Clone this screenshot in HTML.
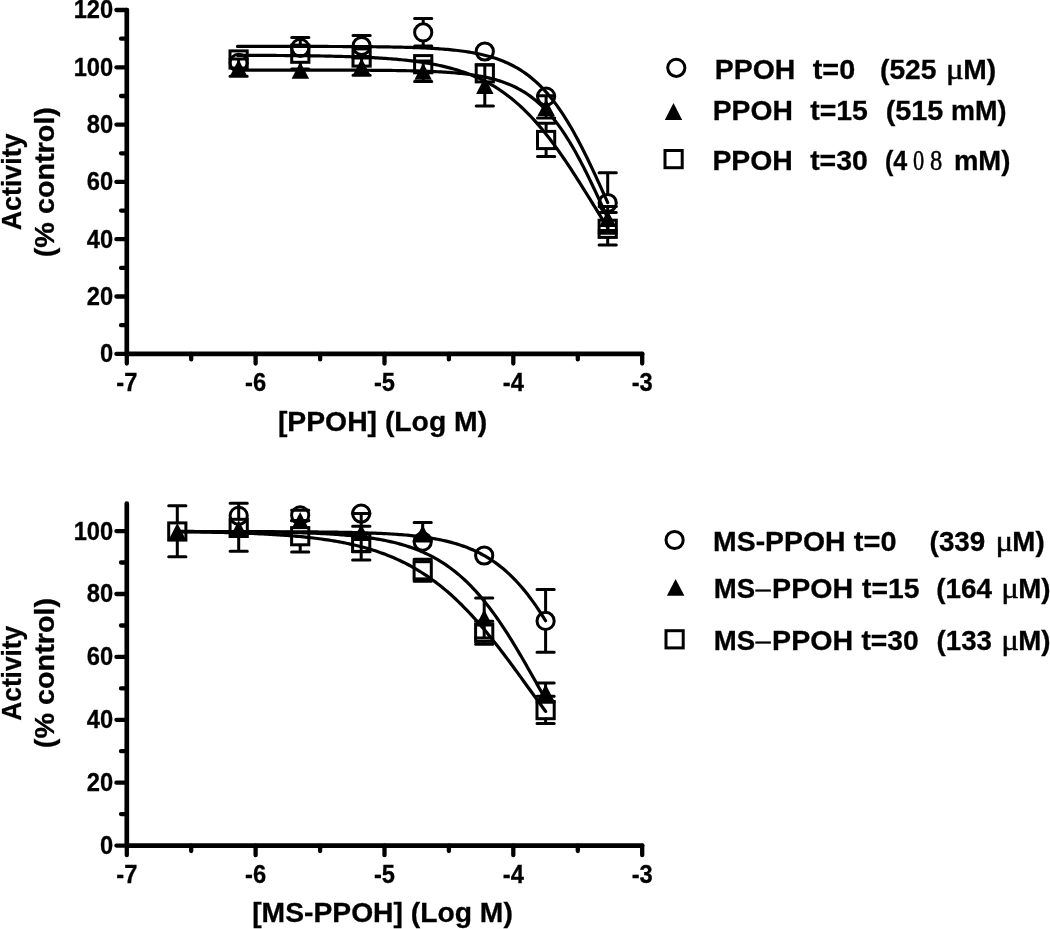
<!DOCTYPE html>
<html><head><meta charset="utf-8"><title>Figure</title>
<style>
html,body{margin:0;padding:0;background:#fff;}
svg{display:block}
text{font-family:"Liberation Sans",sans-serif;font-weight:bold;fill:#000;white-space:pre;stroke:#000;stroke-width:0.3px}
.sym{font-family:"Liberation Serif",serif;font-weight:normal;stroke-width:0.45px}
</style></head><body>
<svg width="1050" height="929" viewBox="0 0 1050 929">
<rect width="1050" height="929" fill="#fff"/>
<g id="top">
<path d="M126.8 10.0V353.9H642.2" fill="none" stroke="#000" stroke-width="4.7" stroke-linecap="round" stroke-linejoin="round"/>
<path d="M116.4 353.9H126.8M116.4 296.5H126.8M116.4 239.2H126.8M116.4 181.9H126.8M116.4 124.6H126.8M116.4 67.3H126.8M116.4 10.0H126.8M121.0 325.2H126.8M121.0 267.9H126.8M121.0 210.6H126.8M121.0 153.3H126.8M121.0 96.0H126.8M121.0 38.7H126.8M126.8 353.9V363.5M255.6 353.9V363.5M384.5 353.9V363.5M513.3 353.9V363.5M642.2 353.9V363.5M191.2 353.9V359.4M320.1 353.9V359.4M448.9 353.9V359.4M577.8 353.9V359.4" fill="none" stroke="#000" stroke-width="4.3" stroke-linecap="round"/>
<text text-anchor="end" font-size="25.5" transform="translate(113.2 362.2) scale(0.93 1)">0</text>
<text text-anchor="end" font-size="25.5" transform="translate(113.2 304.9) scale(0.93 1)">20</text>
<text text-anchor="end" font-size="25.5" transform="translate(113.2 247.6) scale(0.93 1)">40</text>
<text text-anchor="end" font-size="25.5" transform="translate(113.2 190.3) scale(0.93 1)">60</text>
<text text-anchor="end" font-size="25.5" transform="translate(113.2 133.0) scale(0.93 1)">80</text>
<text text-anchor="end" font-size="25.5" transform="translate(113.2 75.7) scale(0.93 1)">100</text>
<text text-anchor="end" font-size="25.5" transform="translate(113.2 18.4) scale(0.93 1)">120</text>
<text text-anchor="middle" font-size="25.5" transform="translate(126.8 390.9) scale(0.93 1)">-7</text>
<text text-anchor="middle" font-size="25.5" transform="translate(255.6 390.9) scale(0.93 1)">-6</text>
<text text-anchor="middle" font-size="25.5" transform="translate(384.5 390.9) scale(0.93 1)">-5</text>
<text text-anchor="middle" font-size="25.5" transform="translate(513.3 390.9) scale(0.93 1)">-4</text>
<text text-anchor="middle" font-size="25.5" transform="translate(642.2 390.9) scale(0.93 1)">-3</text>
<polyline points="237.5,46.38 239.5,46.38 241.5,46.38 243.5,46.38 245.5,46.38 247.5,46.38 249.5,46.38 251.5,46.38 253.5,46.38 255.5,46.38 257.5,46.39 259.5,46.39 261.5,46.39 263.5,46.39 265.5,46.39 267.5,46.39 269.5,46.39 271.5,46.39 273.5,46.39 275.5,46.39 277.5,46.40 279.5,46.40 281.5,46.40 283.5,46.40 285.5,46.40 287.5,46.40 289.5,46.41 291.5,46.41 293.5,46.41 295.5,46.41 297.5,46.41 299.5,46.42 301.5,46.42 303.5,46.42 305.5,46.42 307.5,46.43 309.5,46.43 311.5,46.43 313.5,46.44 315.5,46.44 317.5,46.45 319.5,46.45 321.5,46.45 323.5,46.46 325.5,46.46 327.5,46.47 329.5,46.48 331.5,46.48 333.5,46.49 335.5,46.50 337.5,46.50 339.5,46.51 341.5,46.52 343.5,46.53 345.5,46.54 347.5,46.55 349.5,46.56 351.5,46.57 353.5,46.58 355.5,46.59 357.5,46.60 359.5,46.62 361.5,46.63 363.5,46.65 365.5,46.67 367.5,46.68 369.5,46.70 371.5,46.72 373.5,46.74 375.5,46.76 377.5,46.79 379.5,46.81 381.5,46.84 383.5,46.86 385.5,46.89 387.5,46.92 389.5,46.96 391.5,46.99 393.5,47.03 395.5,47.07 397.5,47.11 399.5,47.15 401.5,47.20 403.5,47.25 405.5,47.30 407.5,47.35 409.5,47.41 411.5,47.47 413.5,47.54 415.5,47.61 417.5,47.68 419.5,47.76 421.5,47.84 423.5,47.93 425.5,48.02 427.5,48.12 429.5,48.22 431.5,48.33 433.5,48.44 435.5,48.56 437.5,48.69 439.5,48.83 441.5,48.98 443.5,49.13 445.5,49.29 447.5,49.46 449.5,49.64 451.5,49.84 453.5,50.04 455.5,50.25 457.5,50.48 459.5,50.72 461.5,50.98 463.5,51.25 465.5,51.53 467.5,51.83 469.5,52.15 471.5,52.49 473.5,52.84 475.5,53.22 477.5,53.61 479.5,54.03 481.5,54.48 483.5,54.94 485.5,55.44 487.5,55.96 489.5,56.51 491.5,57.09 493.5,57.71 495.5,58.35 497.5,59.04 499.5,59.75 501.5,60.51 503.5,61.31 505.5,62.15 507.5,63.04 509.5,63.97 511.5,64.96 513.5,65.99 515.5,67.08 517.5,68.22 519.5,69.42 521.5,70.68 523.5,72.00 525.5,73.39 527.5,74.85 529.5,76.38 531.5,77.97 533.5,79.65 535.5,81.40 537.5,83.23 539.5,85.14 541.5,87.14 543.5,89.23 545.5,91.40 547.5,93.66 549.5,96.02 551.5,98.47 553.5,101.01 555.5,103.65 557.5,106.39 559.5,109.23 561.5,112.16 563.5,115.20 565.5,118.33 567.5,121.56 569.5,124.88 571.5,128.30 573.5,131.82 575.5,135.42 577.5,139.12 579.5,142.90 581.5,146.76 583.5,150.70 585.5,154.71 587.5,158.79 589.5,162.94 591.5,167.14 593.5,171.40 595.5,175.70 597.5,180.05 599.5,184.42 601.5,188.82 603.5,193.24 605.5,197.67 607.5,202.11 607.7,202.55" fill="none" stroke="#000" stroke-width="3.2" stroke-linecap="round" stroke-linejoin="round"/>
<polyline points="237.5,70.06 239.5,70.06 241.5,70.06 243.5,70.07 245.5,70.07 247.5,70.07 249.5,70.07 251.5,70.07 253.5,70.07 255.5,70.07 257.5,70.07 259.5,70.07 261.5,70.07 263.5,70.07 265.5,70.07 267.5,70.07 269.5,70.07 271.5,70.07 273.5,70.07 275.5,70.07 277.5,70.07 279.5,70.07 281.5,70.07 283.5,70.08 285.5,70.08 287.5,70.08 289.5,70.08 291.5,70.08 293.5,70.08 295.5,70.08 297.5,70.08 299.5,70.09 301.5,70.09 303.5,70.09 305.5,70.09 307.5,70.09 309.5,70.09 311.5,70.10 313.5,70.10 315.5,70.10 317.5,70.10 319.5,70.11 321.5,70.11 323.5,70.11 325.5,70.12 327.5,70.12 329.5,70.12 331.5,70.13 333.5,70.13 335.5,70.13 337.5,70.14 339.5,70.14 341.5,70.15 343.5,70.15 345.5,70.16 347.5,70.17 349.5,70.17 351.5,70.18 353.5,70.19 355.5,70.20 357.5,70.21 359.5,70.21 361.5,70.22 363.5,70.23 365.5,70.25 367.5,70.26 369.5,70.27 371.5,70.28 373.5,70.30 375.5,70.31 377.5,70.33 379.5,70.34 381.5,70.36 383.5,70.38 385.5,70.40 387.5,70.42 389.5,70.45 391.5,70.47 393.5,70.50 395.5,70.52 397.5,70.55 399.5,70.58 401.5,70.62 403.5,70.65 405.5,70.69 407.5,70.73 409.5,70.77 411.5,70.82 413.5,70.86 415.5,70.91 417.5,70.97 419.5,71.02 421.5,71.09 423.5,71.15 425.5,71.22 427.5,71.29 429.5,71.37 431.5,71.45 433.5,71.54 435.5,71.63 437.5,71.73 439.5,71.83 441.5,71.95 443.5,72.06 445.5,72.19 447.5,72.32 449.5,72.47 451.5,72.62 453.5,72.78 455.5,72.95 457.5,73.13 459.5,73.32 461.5,73.52 463.5,73.74 465.5,73.97 467.5,74.21 469.5,74.47 471.5,74.74 473.5,75.03 475.5,75.34 477.5,75.67 479.5,76.02 481.5,76.38 483.5,76.77 485.5,77.19 487.5,77.63 489.5,78.09 491.5,78.58 493.5,79.11 495.5,79.66 497.5,80.24 499.5,80.86 501.5,81.52 503.5,82.21 505.5,82.94 507.5,83.72 509.5,84.54 511.5,85.40 513.5,86.32 515.5,87.28 517.5,88.30 519.5,89.38 521.5,90.51 523.5,91.70 525.5,92.96 527.5,94.28 529.5,95.68 531.5,97.14 533.5,98.68 535.5,100.30 537.5,101.99 539.5,103.77 541.5,105.64 543.5,107.59 545.5,109.63 547.5,111.76 549.5,113.99 551.5,116.32 553.5,118.74 555.5,121.26 557.5,123.88 559.5,126.61 561.5,129.43 563.5,132.36 565.5,135.40 567.5,138.53 569.5,141.76 571.5,145.10 573.5,148.53 575.5,152.06 577.5,155.68 579.5,159.38 581.5,163.18 583.5,167.05 585.5,171.00 587.5,175.02 589.5,179.11 591.5,183.25 593.5,187.45 595.5,191.69 597.5,195.97 599.5,200.27 601.5,204.60 603.5,208.94 605.5,213.29 607.5,217.64 607.7,218.07" fill="none" stroke="#000" stroke-width="3.2" stroke-linecap="round" stroke-linejoin="round"/>
<polyline points="237.5,55.29 239.5,55.30 241.5,55.31 243.5,55.31 245.5,55.32 247.5,55.33 249.5,55.33 251.5,55.34 253.5,55.35 255.5,55.36 257.5,55.37 259.5,55.38 261.5,55.39 263.5,55.40 265.5,55.41 267.5,55.42 269.5,55.43 271.5,55.44 273.5,55.45 275.5,55.47 277.5,55.48 279.5,55.49 281.5,55.51 283.5,55.52 285.5,55.54 287.5,55.56 289.5,55.57 291.5,55.59 293.5,55.61 295.5,55.63 297.5,55.65 299.5,55.67 301.5,55.70 303.5,55.72 305.5,55.74 307.5,55.77 309.5,55.80 311.5,55.82 313.5,55.85 315.5,55.88 317.5,55.92 319.5,55.95 321.5,55.98 323.5,56.02 325.5,56.06 327.5,56.10 329.5,56.14 331.5,56.18 333.5,56.23 335.5,56.28 337.5,56.32 339.5,56.38 341.5,56.43 343.5,56.49 345.5,56.54 347.5,56.61 349.5,56.67 351.5,56.74 353.5,56.80 355.5,56.88 357.5,56.95 359.5,57.03 361.5,57.11 363.5,57.20 365.5,57.29 367.5,57.38 369.5,57.48 371.5,57.58 373.5,57.69 375.5,57.80 377.5,57.92 379.5,58.04 381.5,58.16 383.5,58.30 385.5,58.43 387.5,58.58 389.5,58.73 391.5,58.88 393.5,59.04 395.5,59.21 397.5,59.39 399.5,59.58 401.5,59.77 403.5,59.97 405.5,60.18 407.5,60.40 409.5,60.62 411.5,60.86 413.5,61.11 415.5,61.37 417.5,61.64 419.5,61.92 421.5,62.21 423.5,62.51 425.5,62.83 427.5,63.16 429.5,63.51 431.5,63.87 433.5,64.24 435.5,64.63 437.5,65.03 439.5,65.46 441.5,65.90 443.5,66.36 445.5,66.83 447.5,67.33 449.5,67.84 451.5,68.38 453.5,68.94 455.5,69.52 457.5,70.13 459.5,70.75 461.5,71.41 463.5,72.09 465.5,72.79 467.5,73.52 469.5,74.29 471.5,75.08 473.5,75.90 475.5,76.75 477.5,77.64 479.5,78.55 481.5,79.51 483.5,80.49 485.5,81.52 487.5,82.58 489.5,83.67 491.5,84.81 493.5,85.99 495.5,87.21 497.5,88.47 499.5,89.78 501.5,91.13 503.5,92.52 505.5,93.96 507.5,95.45 509.5,96.98 511.5,98.57 513.5,100.20 515.5,101.88 517.5,103.62 519.5,105.40 521.5,107.24 523.5,109.13 525.5,111.08 527.5,113.07 529.5,115.12 531.5,117.23 533.5,119.39 535.5,121.60 537.5,123.87 539.5,126.19 541.5,128.56 543.5,130.99 545.5,133.46 547.5,136.00 549.5,138.58 551.5,141.21 553.5,143.89 555.5,146.62 557.5,149.39 559.5,152.21 561.5,155.07 563.5,157.97 565.5,160.91 567.5,163.89 569.5,166.91 571.5,169.96 573.5,173.04 575.5,176.14 577.5,179.28 579.5,182.43 581.5,185.61 583.5,188.80 585.5,192.01 587.5,195.23 589.5,198.46 591.5,201.69 593.5,204.93 595.5,208.17 597.5,211.40 599.5,214.63 601.5,217.84 603.5,221.05 605.5,224.24 607.5,227.41 607.7,227.73" fill="none" stroke="#000" stroke-width="3.2" stroke-linecap="round" stroke-linejoin="round"/>
<circle cx="238.6" cy="62.8" r="8.6" fill="none" stroke="#000" stroke-width="3.0"/>
<circle cx="300.3" cy="47.8" r="8.6" fill="none" stroke="#000" stroke-width="3.0"/>
<path d="M353.0 35.6H370.2M353.0 56.4H370.2M361.6 35.6V37.0M361.6 55.0V56.4" fill="none" stroke="#000" stroke-width="3.0" stroke-linecap="round"/>
<circle cx="361.6" cy="46.0" r="8.6" fill="none" stroke="#000" stroke-width="3.0"/>
<path d="M414.6 18.6H431.8M414.6 46.1H431.8M423.2 18.6V23.4M423.2 41.4V46.1" fill="none" stroke="#000" stroke-width="3.0" stroke-linecap="round"/>
<circle cx="423.2" cy="32.4" r="8.6" fill="none" stroke="#000" stroke-width="3.0"/>
<circle cx="484.8" cy="51.5" r="8.6" fill="none" stroke="#000" stroke-width="3.0"/>
<circle cx="546.1" cy="96.6" r="8.6" fill="none" stroke="#000" stroke-width="3.0"/>
<path d="M599.1 172.8H616.3M599.1 233.3H616.3M607.7 172.8V194.0M607.7 212.0V233.3" fill="none" stroke="#000" stroke-width="3.0" stroke-linecap="round"/>
<circle cx="607.7" cy="203.0" r="8.6" fill="none" stroke="#000" stroke-width="3.0"/>
<path d="M230.0 59.0H247.2M230.0 76.2H247.2M238.6 59.0V76.2" fill="none" stroke="#000" stroke-width="3.0" stroke-linecap="round"/>
<polygon points="238.6,59.4 247.3,76.2 229.8,76.2" fill="#000"/>
<polygon points="300.3,61.9 309.1,78.7 291.6,78.7" fill="#000"/>
<path d="M353.0 58.0H370.2M353.0 75.2H370.2M361.6 58.0V75.2" fill="none" stroke="#000" stroke-width="3.0" stroke-linecap="round"/>
<polygon points="361.6,58.2 370.4,75.0 352.9,75.0" fill="#000"/>
<path d="M414.6 61.1H431.8M414.6 81.4H431.8M423.2 61.1V81.4" fill="none" stroke="#000" stroke-width="3.0" stroke-linecap="round"/>
<polygon points="423.2,62.9 431.9,79.7 414.4,79.7" fill="#000"/>
<path d="M476.2 65.0H493.4M476.2 106.0H493.4M484.8 65.0V106.0" fill="none" stroke="#000" stroke-width="3.0" stroke-linecap="round"/>
<polygon points="484.8,77.1 493.6,93.9 476.1,93.9" fill="#000"/>
<path d="M537.5 95.8H554.7M537.5 118.0H554.7M546.1 95.8V118.0" fill="none" stroke="#000" stroke-width="3.0" stroke-linecap="round"/>
<polygon points="546.1,99.2 554.9,116.0 537.4,116.0" fill="#000"/>
<path d="M599.1 206.6H616.3M599.1 230.5H616.3M607.7 206.6V230.5" fill="none" stroke="#000" stroke-width="3.0" stroke-linecap="round"/>
<polygon points="607.7,210.2 616.5,227.0 599.0,227.0" fill="#000"/>
<rect x="230.0" y="50.9" width="17.2" height="17.2" fill="none" stroke="#000" stroke-width="3.0"/>
<path d="M291.7 37.6H308.9M291.7 69.0H308.9M300.3 37.6V44.7M300.3 62.7V69.0" fill="none" stroke="#000" stroke-width="3.0" stroke-linecap="round"/>
<rect x="291.7" y="45.1" width="17.2" height="17.2" fill="none" stroke="#000" stroke-width="3.0"/>
<rect x="353.0" y="48.9" width="17.2" height="17.2" fill="none" stroke="#000" stroke-width="3.0"/>
<rect x="414.6" y="55.6" width="17.2" height="17.2" fill="none" stroke="#000" stroke-width="3.0"/>
<rect x="476.2" y="64.7" width="17.2" height="17.2" fill="none" stroke="#000" stroke-width="3.0"/>
<path d="M537.5 123.2H554.7M537.5 156.4H554.7M546.1 123.2V131.0M546.1 149.0V156.4" fill="none" stroke="#000" stroke-width="3.0" stroke-linecap="round"/>
<rect x="537.5" y="131.4" width="17.2" height="17.2" fill="none" stroke="#000" stroke-width="3.0"/>
<path d="M599.1 212.5H616.3M599.1 245.0H616.3M607.7 212.5V219.8M607.7 237.8V245.0" fill="none" stroke="#000" stroke-width="3.0" stroke-linecap="round"/>
<rect x="599.1" y="220.2" width="17.2" height="17.2" fill="none" stroke="#000" stroke-width="3.0"/>
</g>
<text transform="translate(277.91 431.0) scale(1.0114 1)" font-size="28" >[PPOH] (Log M)</text>
<text transform="translate(20.9 230.27) rotate(-90) scale(0.9572 1)" font-size="28">Activity</text>
<text transform="translate(54.3 257.23) rotate(-90) scale(1.0278 1)" font-size="28">(% control)</text>
<circle cx="676.3" cy="67.8" r="8.6" fill="none" stroke="#000" stroke-width="3.0"/>
<polygon points="673.5,103.1 682.2,119.9 664.8,119.9" fill="#000"/>
<rect x="665.0" y="150.5" width="17.2" height="17.2" fill="none" stroke="#000" stroke-width="3.0"/>
<text transform="translate(714.70 78.5) scale(1.0160 1)" font-size="28" >PPOH</text>
<text transform="translate(812.75 78.5) scale(1.0287 1)" font-size="28" >t=0</text>
<text transform="translate(879.99 78.5) scale(1.0080 1)" font-size="28" >(525</text>
<text transform="translate(946.02 78.5) scale(1.1409 1)" font-size="29" class="sym">μ</text>
<text transform="translate(963.31 78.5) scale(1.0075 1)" font-size="28" >M)</text>
<text transform="translate(712.71 120.3) scale(1.0094 1)" font-size="28" >PPOH</text>
<text transform="translate(810.25 120.3) scale(1.0144 1)" font-size="28" >t=15</text>
<text transform="translate(885.67 120.3) scale(1.0266 1)" font-size="28" >(515</text>
<text transform="translate(951.12 120.3) scale(0.9631 1)" font-size="28" >mM)</text>
<text transform="translate(712.40 169.7) scale(1.0147 1)" font-size="28" >PPOH</text>
<text transform="translate(810.15 169.7) scale(1.0157 1)" font-size="28" >t=30</text>
<text transform="translate(884.95 169.7) scale(0.8950 1)" font-size="28" >(4</text>
<text transform="translate(912.95 169.7) scale(0.7865 1)" font-size="28.5" class="sym">0</text>
<text transform="translate(930.07 169.7) scale(0.8610 1)" font-size="28.5" class="sym">8</text>
<text transform="translate(953.89 169.7) scale(0.9815 1)" font-size="28" >mM)</text>
<g id="bot">
<path d="M126.8 503.6V845.6H642.2" fill="none" stroke="#000" stroke-width="4.7" stroke-linecap="round" stroke-linejoin="round"/>
<path d="M116.4 845.6H126.8M116.4 782.7H126.8M116.4 719.8H126.8M116.4 656.9H126.8M116.4 594.0H126.8M116.4 531.1H126.8M121.0 814.1H126.8M121.0 751.2H126.8M121.0 688.4H126.8M121.0 625.5H126.8M121.0 562.5H126.8M126.8 845.6V855.2M255.6 845.6V855.2M384.5 845.6V855.2M513.3 845.6V855.2M642.2 845.6V855.2M191.2 845.6V851.1M320.1 845.6V851.1M448.9 845.6V851.1M577.8 845.6V851.1" fill="none" stroke="#000" stroke-width="4.3" stroke-linecap="round"/>
<text text-anchor="end" font-size="25.5" transform="translate(113.2 854.0) scale(0.93 1)">0</text>
<text text-anchor="end" font-size="25.5" transform="translate(113.2 791.1) scale(0.93 1)">20</text>
<text text-anchor="end" font-size="25.5" transform="translate(113.2 728.2) scale(0.93 1)">40</text>
<text text-anchor="end" font-size="25.5" transform="translate(113.2 665.3) scale(0.93 1)">60</text>
<text text-anchor="end" font-size="25.5" transform="translate(113.2 602.4) scale(0.93 1)">80</text>
<text text-anchor="end" font-size="25.5" transform="translate(113.2 539.5) scale(0.93 1)">100</text>
<text text-anchor="middle" font-size="25.5" transform="translate(126.8 882.6) scale(0.93 1)">-7</text>
<text text-anchor="middle" font-size="25.5" transform="translate(255.6 882.6) scale(0.93 1)">-6</text>
<text text-anchor="middle" font-size="25.5" transform="translate(384.5 882.6) scale(0.93 1)">-5</text>
<text text-anchor="middle" font-size="25.5" transform="translate(513.3 882.6) scale(0.93 1)">-4</text>
<text text-anchor="middle" font-size="25.5" transform="translate(642.2 882.6) scale(0.93 1)">-3</text>
<polyline points="177.3,531.61 179.3,531.61 181.3,531.61 183.3,531.61 185.3,531.61 187.3,531.61 189.3,531.61 191.3,531.61 193.3,531.62 195.3,531.62 197.3,531.62 199.3,531.62 201.3,531.62 203.3,531.62 205.3,531.62 207.3,531.62 209.3,531.62 211.3,531.62 213.3,531.63 215.3,531.63 217.3,531.63 219.3,531.63 221.3,531.63 223.3,531.63 225.3,531.63 227.3,531.64 229.3,531.64 231.3,531.64 233.3,531.64 235.3,531.65 237.3,531.65 239.3,531.65 241.3,531.65 243.3,531.66 245.3,531.66 247.3,531.66 249.3,531.66 251.3,531.67 253.3,531.67 255.3,531.68 257.3,531.68 259.3,531.68 261.3,531.69 263.3,531.69 265.3,531.70 267.3,531.70 269.3,531.71 271.3,531.71 273.3,531.72 275.3,531.73 277.3,531.73 279.3,531.74 281.3,531.75 283.3,531.75 285.3,531.76 287.3,531.77 289.3,531.78 291.3,531.79 293.3,531.80 295.3,531.81 297.3,531.82 299.3,531.83 301.3,531.84 303.3,531.86 305.3,531.87 307.3,531.88 309.3,531.90 311.3,531.91 313.3,531.93 315.3,531.95 317.3,531.97 319.3,531.98 321.3,532.01 323.3,532.03 325.3,532.05 327.3,532.07 329.3,532.10 331.3,532.12 333.3,532.15 335.3,532.18 337.3,532.21 339.3,532.24 341.3,532.27 343.3,532.31 345.3,532.35 347.3,532.39 349.3,532.43 351.3,532.47 353.3,532.52 355.3,532.56 357.3,532.61 359.3,532.67 361.3,532.72 363.3,532.78 365.3,532.84 367.3,532.91 369.3,532.98 371.3,533.05 373.3,533.12 375.3,533.20 377.3,533.28 379.3,533.37 381.3,533.46 383.3,533.56 385.3,533.66 387.3,533.77 389.3,533.88 391.3,534.00 393.3,534.13 395.3,534.26 397.3,534.40 399.3,534.54 401.3,534.70 403.3,534.86 405.3,535.02 407.3,535.20 409.3,535.39 411.3,535.58 413.3,535.79 415.3,536.01 417.3,536.23 419.3,536.47 421.3,536.72 423.3,536.99 425.3,537.26 427.3,537.56 429.3,537.86 431.3,538.18 433.3,538.52 435.3,538.87 437.3,539.25 439.3,539.64 441.3,540.05 443.3,540.48 445.3,540.93 447.3,541.40 449.3,541.90 451.3,542.42 453.3,542.96 455.3,543.54 457.3,544.14 459.3,544.77 461.3,545.42 463.3,546.12 465.3,546.84 467.3,547.60 469.3,548.39 471.3,549.22 473.3,550.09 475.3,551.00 477.3,551.95 479.3,552.94 481.3,553.98 483.3,555.06 485.3,556.20 487.3,557.38 489.3,558.61 491.3,559.90 493.3,561.24 495.3,562.64 497.3,564.10 499.3,565.62 501.3,567.20 503.3,568.85 505.3,570.55 507.3,572.33 509.3,574.18 511.3,576.09 513.3,578.08 515.3,580.13 517.3,582.27 519.3,584.48 521.3,586.76 523.3,589.12 525.3,591.56 527.3,594.08 529.3,596.67 531.3,599.35 533.3,602.10 535.3,604.93 537.3,607.84 539.3,610.83 541.3,613.89 543.3,617.03 545.3,620.24 545.6,620.73" fill="none" stroke="#000" stroke-width="3.2" stroke-linecap="round" stroke-linejoin="round"/>
<polyline points="177.3,531.43 179.3,531.44 181.3,531.44 183.3,531.44 185.3,531.45 187.3,531.45 189.3,531.46 191.3,531.46 193.3,531.47 195.3,531.48 197.3,531.48 199.3,531.49 201.3,531.49 203.3,531.50 205.3,531.51 207.3,531.51 209.3,531.52 211.3,531.53 213.3,531.54 215.3,531.55 217.3,531.56 219.3,531.57 221.3,531.58 223.3,531.59 225.3,531.60 227.3,531.61 229.3,531.62 231.3,531.64 233.3,531.65 235.3,531.66 237.3,531.68 239.3,531.69 241.3,531.71 243.3,531.72 245.3,531.74 247.3,531.76 249.3,531.78 251.3,531.80 253.3,531.82 255.3,531.84 257.3,531.87 259.3,531.89 261.3,531.91 263.3,531.94 265.3,531.97 267.3,532.00 269.3,532.03 271.3,532.06 273.3,532.09 275.3,532.13 277.3,532.16 279.3,532.20 281.3,532.24 283.3,532.28 285.3,532.32 287.3,532.37 289.3,532.42 291.3,532.47 293.3,532.52 295.3,532.57 297.3,532.63 299.3,532.69 301.3,532.75 303.3,532.81 305.3,532.88 307.3,532.95 309.3,533.03 311.3,533.10 313.3,533.19 315.3,533.27 317.3,533.36 319.3,533.45 321.3,533.55 323.3,533.65 325.3,533.76 327.3,533.87 329.3,533.98 331.3,534.10 333.3,534.23 335.3,534.36 337.3,534.50 339.3,534.65 341.3,534.80 343.3,534.96 345.3,535.12 347.3,535.30 349.3,535.48 351.3,535.67 353.3,535.86 355.3,536.07 357.3,536.29 359.3,536.51 361.3,536.75 363.3,536.99 365.3,537.25 367.3,537.52 369.3,537.80 371.3,538.10 373.3,538.40 375.3,538.72 377.3,539.06 379.3,539.40 381.3,539.77 383.3,540.15 385.3,540.55 387.3,540.96 389.3,541.39 391.3,541.84 393.3,542.31 395.3,542.81 397.3,543.32 399.3,543.85 401.3,544.41 403.3,544.99 405.3,545.59 407.3,546.22 409.3,546.88 411.3,547.57 413.3,548.28 415.3,549.02 417.3,549.79 419.3,550.60 421.3,551.44 423.3,552.31 425.3,553.21 427.3,554.16 429.3,555.13 431.3,556.15 433.3,557.21 435.3,558.31 437.3,559.45 439.3,560.63 441.3,561.86 443.3,563.14 445.3,564.46 447.3,565.83 449.3,567.25 451.3,568.72 453.3,570.24 455.3,571.81 457.3,573.44 459.3,575.13 461.3,576.86 463.3,578.66 465.3,580.52 467.3,582.43 469.3,584.40 471.3,586.44 473.3,588.53 475.3,590.69 477.3,592.90 479.3,595.18 481.3,597.53 483.3,599.93 485.3,602.40 487.3,604.93 489.3,607.52 491.3,610.17 493.3,612.88 495.3,615.66 497.3,618.49 499.3,621.38 501.3,624.33 503.3,627.33 505.3,630.39 507.3,633.49 509.3,636.65 511.3,639.86 513.3,643.11 515.3,646.40 517.3,649.74 519.3,653.11 521.3,656.52 523.3,659.96 525.3,663.42 527.3,666.92 529.3,670.43 531.3,673.97 533.3,677.52 535.3,681.08 537.3,684.64 539.3,688.22 541.3,691.79 543.3,695.36 545.3,698.92 545.6,699.46" fill="none" stroke="#000" stroke-width="3.2" stroke-linecap="round" stroke-linejoin="round"/>
<polyline points="177.3,531.71 179.3,531.74 181.3,531.76 183.3,531.78 185.3,531.81 187.3,531.84 189.3,531.86 191.3,531.89 193.3,531.92 195.3,531.95 197.3,531.99 199.3,532.02 201.3,532.05 203.3,532.09 205.3,532.12 207.3,532.16 209.3,532.20 211.3,532.24 213.3,532.28 215.3,532.33 217.3,532.37 219.3,532.42 221.3,532.47 223.3,532.52 225.3,532.57 227.3,532.62 229.3,532.68 231.3,532.73 233.3,532.79 235.3,532.85 237.3,532.92 239.3,532.98 241.3,533.05 243.3,533.12 245.3,533.20 247.3,533.27 249.3,533.35 251.3,533.43 253.3,533.52 255.3,533.60 257.3,533.69 259.3,533.79 261.3,533.88 263.3,533.98 265.3,534.09 267.3,534.19 269.3,534.30 271.3,534.42 273.3,534.54 275.3,534.66 277.3,534.79 279.3,534.92 281.3,535.06 283.3,535.20 285.3,535.34 287.3,535.49 289.3,535.65 291.3,535.81 293.3,535.98 295.3,536.15 297.3,536.33 299.3,536.52 301.3,536.71 303.3,536.91 305.3,537.11 307.3,537.32 309.3,537.54 311.3,537.77 313.3,538.00 315.3,538.25 317.3,538.50 319.3,538.76 321.3,539.02 323.3,539.30 325.3,539.59 327.3,539.89 329.3,540.19 331.3,540.51 333.3,540.84 335.3,541.18 337.3,541.53 339.3,541.89 341.3,542.26 343.3,542.65 345.3,543.05 347.3,543.46 349.3,543.88 351.3,544.32 353.3,544.78 355.3,545.25 357.3,545.73 359.3,546.23 361.3,546.74 363.3,547.28 365.3,547.83 367.3,548.39 369.3,548.98 371.3,549.58 373.3,550.20 375.3,550.85 377.3,551.51 379.3,552.19 381.3,552.90 383.3,553.62 385.3,554.37 387.3,555.14 389.3,555.93 391.3,556.75 393.3,557.59 395.3,558.46 397.3,559.35 399.3,560.27 401.3,561.22 403.3,562.19 405.3,563.19 407.3,564.22 409.3,565.28 411.3,566.36 413.3,567.48 415.3,568.63 417.3,569.81 419.3,571.02 421.3,572.26 423.3,573.54 425.3,574.85 427.3,576.19 429.3,577.57 431.3,578.98 433.3,580.43 435.3,581.91 437.3,583.43 439.3,584.98 441.3,586.57 443.3,588.20 445.3,589.86 447.3,591.56 449.3,593.30 451.3,595.07 453.3,596.89 455.3,598.74 457.3,600.62 459.3,602.55 461.3,604.51 463.3,606.51 465.3,608.55 467.3,610.62 469.3,612.73 471.3,614.88 473.3,617.06 475.3,619.27 477.3,621.53 479.3,623.81 481.3,626.13 483.3,628.48 485.3,630.86 487.3,633.28 489.3,635.72 491.3,638.19 493.3,640.69 495.3,643.22 497.3,645.77 499.3,648.35 501.3,650.95 503.3,653.57 505.3,656.22 507.3,658.88 509.3,661.56 511.3,664.26 513.3,666.97 515.3,669.69 517.3,672.43 519.3,675.17 521.3,677.93 523.3,680.69 525.3,683.45 527.3,686.22 529.3,688.99 531.3,691.76 533.3,694.53 535.3,697.29 537.3,700.05 539.3,702.80 541.3,705.55 543.3,708.28 545.3,711.00 545.6,711.41" fill="none" stroke="#000" stroke-width="3.2" stroke-linecap="round" stroke-linejoin="round"/>
<circle cx="238.7" cy="515.8" r="8.6" fill="none" stroke="#000" stroke-width="3.0"/>
<path d="M291.6 510.2H308.8M291.6 520.7H308.8" fill="none" stroke="#000" stroke-width="3.0" stroke-linecap="round"/>
<circle cx="300.2" cy="515.3" r="8.6" fill="none" stroke="#000" stroke-width="3.0"/>
<circle cx="361.2" cy="513.6" r="8.6" fill="none" stroke="#000" stroke-width="3.0"/>
<circle cx="422.7" cy="541.7" r="8.6" fill="none" stroke="#000" stroke-width="3.0"/>
<circle cx="484.2" cy="555.5" r="8.6" fill="none" stroke="#000" stroke-width="3.0"/>
<path d="M537.0 589.6H554.2M537.0 652.3H554.2M545.6 589.6V611.9M545.6 629.9V652.3" fill="none" stroke="#000" stroke-width="3.0" stroke-linecap="round"/>
<circle cx="545.6" cy="620.9" r="8.6" fill="none" stroke="#000" stroke-width="3.0"/>
<polygon points="177.3,523.1 186.1,539.9 168.6,539.9" fill="#000"/>
<polygon points="238.7,520.3 247.4,537.1 229.9,537.1" fill="#000"/>
<polygon points="300.2,512.1 308.9,528.9 291.4,528.9" fill="#000"/>
<path d="M352.6 513.4H369.9M352.6 551.8H369.9M361.2 513.4V551.8" fill="none" stroke="#000" stroke-width="3.0" stroke-linecap="round"/>
<polygon points="361.2,524.2 370.0,541.0 352.5,541.0" fill="#000"/>
<path d="M414.1 522.4H431.3M414.1 541.0H431.3M422.7 522.4V541.0" fill="none" stroke="#000" stroke-width="3.0" stroke-linecap="round"/>
<polygon points="422.7,525.0 431.4,541.8 413.9,541.8" fill="#000"/>
<path d="M475.6 598.1H492.8M475.6 637.9H492.8M484.2 598.1V637.9" fill="none" stroke="#000" stroke-width="3.0" stroke-linecap="round"/>
<polygon points="484.2,609.6 492.9,626.4 475.4,626.4" fill="#000"/>
<path d="M537.0 682.9H554.2M537.0 702.3H554.2M545.6 682.9V702.3" fill="none" stroke="#000" stroke-width="3.0" stroke-linecap="round"/>
<polygon points="545.6,684.2 554.4,701.0 536.9,701.0" fill="#000"/>
<path d="M168.7 505.7H185.9M168.7 556.7H185.9M177.3 505.7V522.5M177.3 540.5V556.7" fill="none" stroke="#000" stroke-width="3.0" stroke-linecap="round"/>
<rect x="168.7" y="522.9" width="17.2" height="17.2" fill="none" stroke="#000" stroke-width="3.0"/>
<path d="M230.1 503.2H247.3M230.1 551.2H247.3M238.7 503.2V518.9M238.7 536.9V551.2" fill="none" stroke="#000" stroke-width="3.0" stroke-linecap="round"/>
<rect x="230.1" y="519.3" width="17.2" height="17.2" fill="none" stroke="#000" stroke-width="3.0"/>
<path d="M291.6 520.4H308.8M291.6 552.0H308.8M300.2 520.4V527.2M300.2 545.2V552.0" fill="none" stroke="#000" stroke-width="3.0" stroke-linecap="round"/>
<rect x="291.6" y="527.6" width="17.2" height="17.2" fill="none" stroke="#000" stroke-width="3.0"/>
<path d="M352.6 526.3H369.9M352.6 560.1H369.9M361.2 526.3V533.8M361.2 551.8V560.1" fill="none" stroke="#000" stroke-width="3.0" stroke-linecap="round"/>
<rect x="352.6" y="534.2" width="17.2" height="17.2" fill="none" stroke="#000" stroke-width="3.0"/>
<path d="M414.1 559.3H431.3M414.1 581.3H431.3M422.7 559.3V561.3M422.7 579.3V581.3" fill="none" stroke="#000" stroke-width="3.0" stroke-linecap="round"/>
<rect x="414.1" y="561.7" width="17.2" height="17.2" fill="none" stroke="#000" stroke-width="3.0"/>
<path d="M475.6 621.3H492.8M475.6 644.3H492.8M484.2 621.3V623.8M484.2 641.8V644.3" fill="none" stroke="#000" stroke-width="3.0" stroke-linecap="round"/>
<rect x="475.6" y="624.2" width="17.2" height="17.2" fill="none" stroke="#000" stroke-width="3.0"/>
<path d="M537.0 696.2H554.2M537.0 723.5H554.2M545.6 696.2V701.1M545.6 719.1V723.5" fill="none" stroke="#000" stroke-width="3.0" stroke-linecap="round"/>
<rect x="537.0" y="701.5" width="17.2" height="17.2" fill="none" stroke="#000" stroke-width="3.0"/>
</g>
<text transform="translate(252.21 922.3) scale(1.0098 1)" font-size="28" >[MS-PPOH] (Log M)</text>
<text transform="translate(20.9 720.65) rotate(-90) scale(0.9372 1)" font-size="28">Activity</text>
<text transform="translate(54.3 748.13) rotate(-90) scale(1.0278 1)" font-size="28">(% control)</text>
<circle cx="674.6" cy="540.0" r="8.6" fill="none" stroke="#000" stroke-width="3.0"/>
<polygon points="675.6,579.0 684.4,595.8 666.9,595.8" fill="#000"/>
<rect x="666.0" y="630.7" width="17.2" height="17.2" fill="none" stroke="#000" stroke-width="3.0"/>
<text transform="translate(713.10 550.8) scale(1.0133 1)" font-size="28" >MS-PPOH</text>
<text transform="translate(853.85 550.8) scale(1.0338 1)" font-size="28" >t=0</text>
<text transform="translate(929.61 550.8) scale(0.9943 1)" font-size="28" >(339</text>
<text transform="translate(995.52 550.8) scale(1.1409 1)" font-size="29" class="sym">μ</text>
<text transform="translate(1012.34 550.8) scale(0.9904 1)" font-size="28" >M)</text>
<text transform="translate(713.76 597.9) scale(0.9838 1)" font-size="28" >MS</text>
<text transform="translate(755.80 597.9) scale(1.0204 1)" font-size="29" class="sym">–</text>
<text transform="translate(772.09 597.9) scale(1.0213 1)" font-size="28" >PPOH</text>
<text transform="translate(862.06 597.9) scale(1.0090 1)" font-size="28" >t=15</text>
<text transform="translate(936.21 597.9) scale(0.9964 1)" font-size="28" >(164</text>
<text transform="translate(1001.22 597.9) scale(1.1409 1)" font-size="29" class="sym">μ</text>
<text transform="translate(1018.24 597.9) scale(0.9904 1)" font-size="28" >M)</text>
<text transform="translate(713.76 649.9) scale(0.9838 1)" font-size="28" >MS</text>
<text transform="translate(755.80 649.9) scale(1.0204 1)" font-size="29" class="sym">–</text>
<text transform="translate(772.09 649.9) scale(1.0213 1)" font-size="28" >PPOH</text>
<text transform="translate(861.46 649.9) scale(1.0085 1)" font-size="28" >t=30</text>
<text transform="translate(936.62 649.9) scale(0.9882 1)" font-size="28" >(133</text>
<text transform="translate(1001.22 649.9) scale(1.1409 1)" font-size="29" class="sym">μ</text>
<text transform="translate(1018.24 649.9) scale(0.9904 1)" font-size="28" >M)</text>
</svg></body></html>
